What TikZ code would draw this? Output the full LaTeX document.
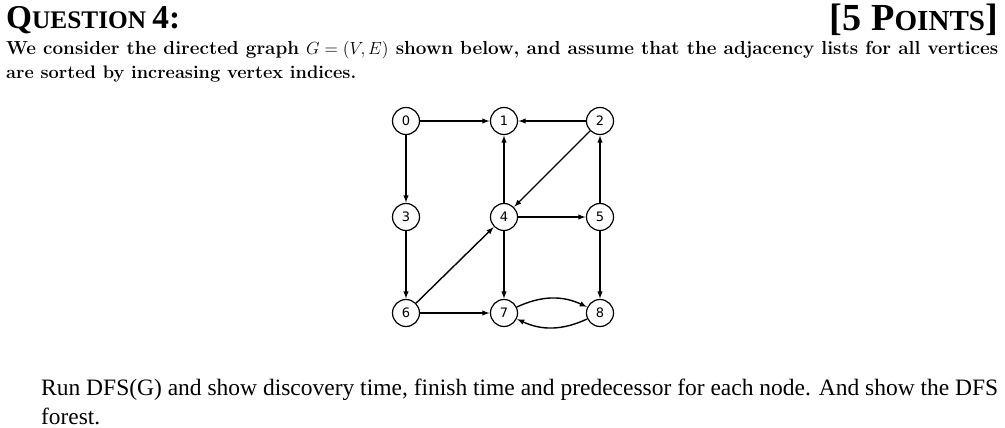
\documentclass[tikz,border=0pt]{standalone}
\usepackage{fontspec}
\usepackage{graphicx}
\newfontfamily\tnr{Liberation Serif}
\newfontfamily\nsans{DejaVu Sans}
\begin{document}
\begin{tikzpicture}[x=1pt,y=-1pt,
  vtx/.style={circle,draw,line width=1.2pt,minimum size=27pt,inner sep=0pt,font=\nsans\fontsize{13}{14}\selectfont},
  edge/.style={-latex,line width=1.4pt,shorten >=0.5pt},
  txt/.style={anchor=west,inner sep=0pt}]
\useasboundingbox (0,0) rectangle (1005,428);
\node[txt] (q) at (6,20) {\resizebox{174pt}{!}{\tnr\bfseries\fontsize{25}{28}\selectfont Q\fontsize{19}{22}\selectfont UESTION \fontsize{25}{28}\selectfont 4:}};
\node[anchor=east,inner sep=0pt] (p) at (998,20) {\resizebox{168pt}{!}{\tnr\bfseries\fontsize{25}{28}\selectfont [5 P\fontsize{19}{22}\selectfont OINTS\fontsize{25}{28}\selectfont ]}};
\node[txt] (l1) at (6,50) {\resizebox{992pt}{!}{\bfseries\fontsize{15.5}{18}\selectfont We consider the directed graph $G=(V,E)$ shown below, and assume that the adjacency lists for all vertices}};
\node[txt] (l2) at (6,74) {\resizebox{350pt}{!}{\bfseries\fontsize{15.5}{18}\selectfont are sorted by increasing vertex indices.}};
\node[vtx] (n0) at (406,121) {0};
\node[vtx] (n1) at (504,121) {1};
\node[vtx] (n2) at (600,121) {2};
\node[vtx] (n3) at (406,217) {3};
\node[vtx] (n4) at (504,217) {4};
\node[vtx] (n5) at (600,217) {5};
\node[vtx] (n6) at (406,313) {6};
\node[vtx] (n7) at (504,313) {7};
\node[vtx] (n8) at (600,313) {8};
\draw[edge] (n0) -- (n1);
\draw[edge] (n2) -- (n1);
\draw[edge] (n0) -- (n3);
\draw[edge] (n2) -- (n4);
\draw[edge] (n4) -- (n1);
\draw[edge] (n4) -- (n5);
\draw[edge] (n5) -- (n2);
\draw[edge] (n5) -- (n8);
\draw[edge] (n3) -- (n6);
\draw[edge] (n6) -- (n4);
\draw[edge] (n6) -- (n7);
\draw[edge] (n4) -- (n7);
\draw[edge] (n7) to[bend left=25] (n8);
\draw[edge] (n8) to[bend left=25] (n7);
\node[txt] (b1) at (41,390) {\resizebox{957pt}{!}{\tnr\fontsize{19.5}{22}\selectfont Run DFS(G) and show discovery time, finish time and predecessor for each node. And show the DFS}};
\node[txt] (b2) at (41,416) {\resizebox{59pt}{!}{\tnr\fontsize{19.5}{22}\selectfont forest.}};
\end{tikzpicture}
\end{document}
